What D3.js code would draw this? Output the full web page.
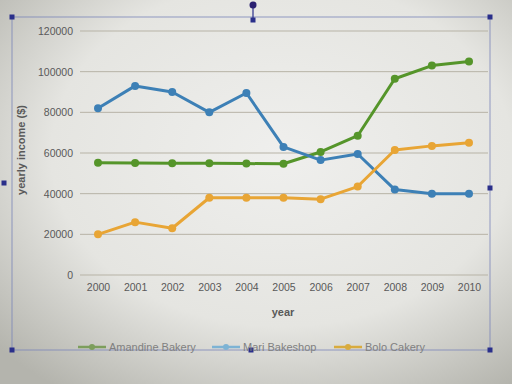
<!DOCTYPE html>
<html><head><meta charset="utf-8">
<script src="https://cdn.jsdelivr.net/npm/d3@7"></script>
<style>
html,body{margin:0;padding:0;}
body{width:512px;height:384px;overflow:hidden;background:#d8d8d2;}
</style></head>
<body><svg id="c" width="512" height="384"></svg>
<script>
const years = ["2000","2001","2002","2003","2004","2005","2006","2007","2008","2009","2010"];
const amandine = [55200,55100,55000,54900,54800,54700,60500,68500,96500,103000,105000];
const mari = [82000,93000,90000,80000,89500,63000,56500,59500,42000,40000,40000];
const bolo = [20000,26000,23000,38000,38000,38000,37300,43500,61500,63500,65000];
const yTicks = [0,20000,40000,60000,80000,100000,120000];
const seriesNames = ["Amandine Bakery","Mari Bakeshop","Bolo Cakery"];
const seriesColors = ["#55952a","#3d80b6","#e8a535"];
const legendColors = ["#7c9e5c","#7db3d4","#d8ab3e"];

const series = [amandine, mari, bolo].map((v,i)=>({name:seriesNames[i], values:v, color:seriesColors[i], lcolor:legendColors[i]}));

const svg = d3.select("#c");
const defs = svg.append("defs");
const rg = defs.append("radialGradient").attr("id","bg").attr("cx","55%").attr("cy","40%").attr("r","75%");
rg.append("stop").attr("offset","0%").attr("stop-color","#efefed");
rg.append("stop").attr("offset","60%").attr("stop-color","#e5e5e1");
rg.append("stop").attr("offset","100%").attr("stop-color","#b4b4ad");
svg.append("rect").attr("width",512).attr("height",384).attr("fill","url(#bg)");

// chart frame (selected chart object)
svg.append("rect").attr("x",12).attr("y",17).attr("width",478).attr("height",333)
  .attr("fill","none").attr("stroke","#7a86b8").attr("stroke-width",0.8);
const handles = [[12,17],[490,17],[12,350],[490,350],[253,20],[251,350],[4,183],[490,188]];
svg.selectAll("rect.h").data(handles).enter().append("rect").attr("class","h")
  .attr("x",d=>d[0]-2.5).attr("y",d=>d[1]-2.5).attr("width",5).attr("height",5)
  .attr("fill","#2a2f8a");
svg.append("line").attr("x1",253).attr("x2",253).attr("y1",6).attr("y2",18).attr("stroke","#2a2f8a").attr("stroke-width",1.2);
svg.append("circle").attr("cx",253).attr("cy",5).attr("r",3.5).attr("fill","#2a2070");

const x = d3.scalePoint().domain(years).range([98,469]);
const y = d3.scaleLinear().domain([0,120000]).range([275,31]);

// gridlines
svg.append("g").selectAll("line").data(yTicks).enter().append("line")
  .attr("x1",80).attr("x2",488).attr("y1",d=>y(d)).attr("y2",d=>y(d))
  .attr("stroke","#b7b3a6").attr("stroke-width",1);

// y axis
const yAxis = d3.axisLeft(y).tickValues(yTicks).tickSize(0).tickPadding(0).tickFormat(d3.format("d"));
const gy = svg.append("g").attr("transform","translate(73,0)").call(yAxis);
gy.select(".domain").remove();
gy.selectAll("text").attr("font-family","Liberation Sans, Arial, sans-serif").attr("font-size",10.5).attr("fill","#595959");

// x axis
const xAxis = d3.axisBottom(x).tickSize(0).tickPadding(0);
const gx = svg.append("g").attr("transform","translate(0,284)").call(xAxis);
gx.select(".domain").remove();
gx.selectAll("text").attr("font-family","Liberation Sans, Arial, sans-serif").attr("font-size",10.5).attr("fill","#595959");

// axis titles
svg.append("text").attr("x",283).attr("y",316).attr("text-anchor","middle")
  .attr("font-family","Liberation Sans, Arial, sans-serif").attr("font-size",11).attr("font-weight","bold").attr("fill","#595959").text("year");
svg.append("text").attr("transform","translate(25,150) rotate(-90)").attr("text-anchor","middle")
  .attr("font-family","Liberation Sans, Arial, sans-serif").attr("font-size",11).attr("font-weight","bold").attr("fill","#595959").text("yearly income ($)");

// lines
const line = d3.line().x((d,i)=>x(years[i])).y(d=>y(d));
series.forEach(s=>{
  svg.append("path").datum(s.values).attr("d",line).attr("fill","none")
    .attr("stroke",s.color).attr("stroke-width",3).attr("stroke-linejoin","round");
  svg.append("g").selectAll("circle").data(s.values).enter().append("circle")
    .attr("cx",(d,i)=>x(years[i])).attr("cy",d=>y(d)).attr("r",4).attr("fill",s.color);
});

// legend
const legX = [78,212,334];
const lg = svg.append("g");
series.forEach((s,i)=>{
  const g = lg.append("g").attr("transform",`translate(${legX[i]},347)`);
  g.append("line").attr("x1",0).attr("x2",28).attr("y1",0).attr("y2",0).attr("stroke",s.lcolor).attr("stroke-width",2.5);
  g.append("circle").attr("cx",14).attr("cy",0).attr("r",3).attr("fill",s.lcolor);
  g.append("text").attr("x",31).attr("y",4).attr("font-family","Liberation Sans, Arial, sans-serif")
    .attr("font-size",11).attr("fill","#808080").text(s.name);
});
</script>
</body></html>
